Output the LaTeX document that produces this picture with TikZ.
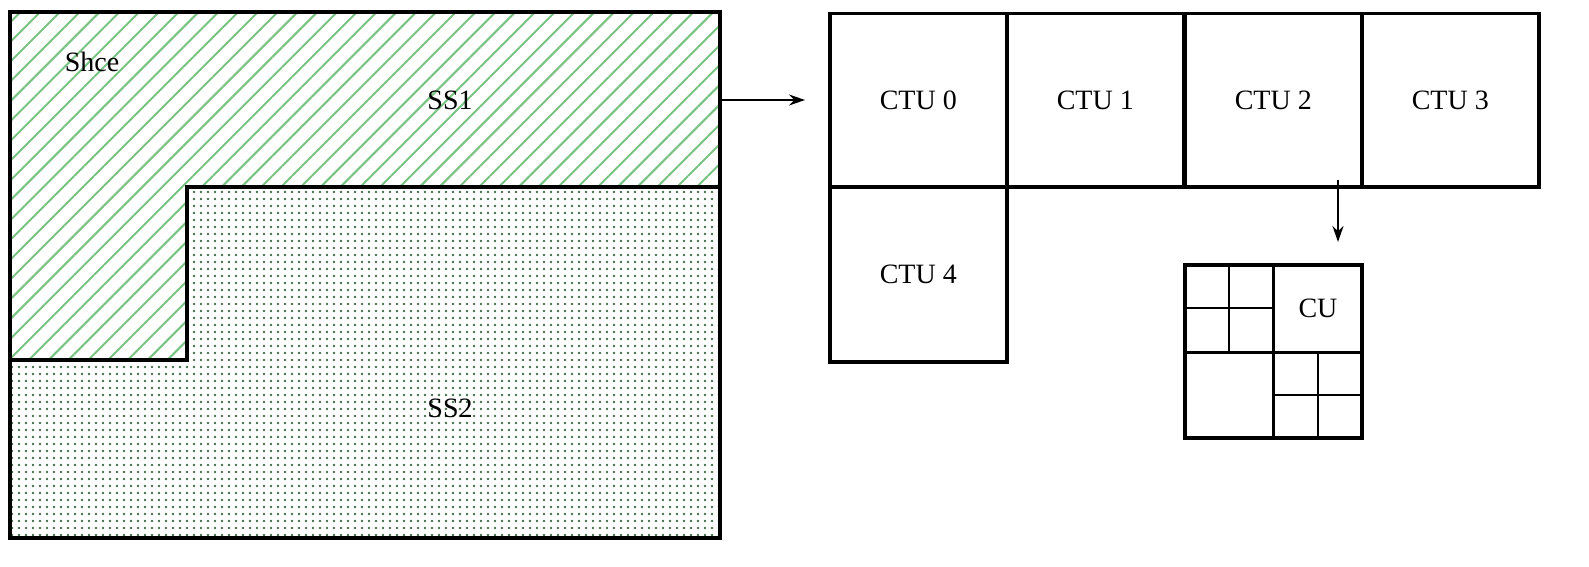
\documentclass[tikz,border=0pt]{standalone}
\usepackage{fontspec}
\setmainfont{Liberation Serif}
\usetikzlibrary{patterns.meta,arrows.meta}
\definecolor{hg}{RGB}{120,195,130}
\definecolor{dg}{RGB}{20,70,30}
\begin{document}
\begin{tikzpicture}[x=1pt,y=-1pt,
  box/.style={draw,line width=3.5pt},
  lab/.style={font=\fontsize{28}{30}\selectfont},
  arr/.style={line width=2pt,-{Stealth[length=16pt,width=11pt]}}]
\useasboundingbox (0,0) rectangle (1589,567);
% SS1 hatched
\fill[pattern={Lines[angle=45,distance=14pt,line width=2pt]},pattern color=hg]
  (10,12) -- (720,12) -- (720,187) -- (187,187) -- (187,360) -- (10,360) -- cycle;
% SS2 dotted
\fill[pattern={Dots[distance=6.5pt,radius=1.4pt]},pattern color=dg!80]
  (10,360) -- (187,360) -- (187,187) -- (720,187) -- (720,538) -- (10,538) -- cycle;
\draw[box] (10,12) rectangle (720,538);
\draw[box] (10,360) -- (187,360) -- (187,187) -- (720,187);
\node[lab] (slice) at (92,62) {Shce};
\node[lab] (ss1) at (450,100) {SS1};
\node[lab] (ss2) at (450,408) {SS2};
\coordinate (a0) at (722,100);
% CTUs
\foreach \i/\x in {0/828,1/1005,2/1183,3/1360}{
  \node[box,minimum width=177pt,minimum height=173pt,anchor=north west,inner sep=0,lab] (ctu\i) at (\x,12) {CTU \i};
}
\node[box,minimum width=177pt,minimum height=175pt,anchor=north west,inner sep=0,lab] (ctu4) at (828,185) {CTU 4};
\coordinate (a1) at (805,100);
\draw[arr] (a0) -- (a1);
\coordinate (b0) at (1338,180);
\coordinate (b1) at (1338,242);
\draw[arr] (b0) -- (b1);
% CU block
\draw[line width=3.5pt] (1185,265) rectangle (1362,438);
\draw[line width=3pt] (1273,265) -- (1273,438) (1185,352) -- (1362,352);
\draw[line width=2.5pt] (1229,265) -- (1229,352) (1185,308) -- (1273,308);
\draw[line width=2.5pt] (1318,352) -- (1318,438) (1273,395) -- (1362,395);
\node[lab] (cu) at (1318,308) {CU};
\end{tikzpicture}
\end{document}
